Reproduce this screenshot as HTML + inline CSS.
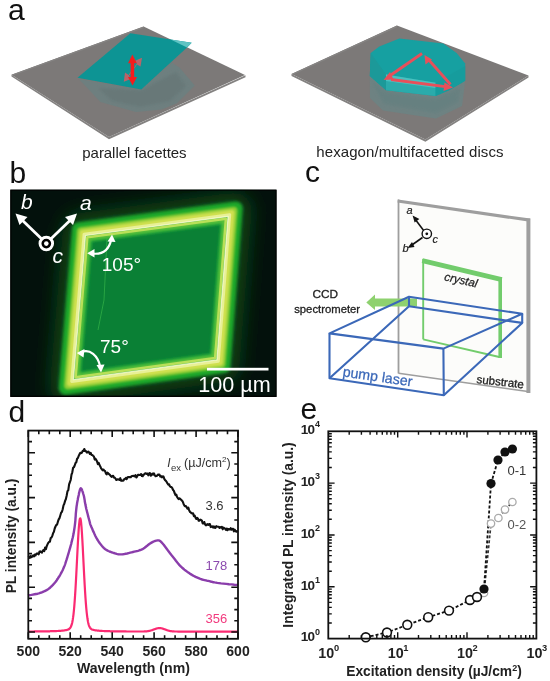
<!DOCTYPE html>
<html><head><meta charset="utf-8">
<style>
html,body{margin:0;padding:0;background:#fff;}
body{width:550px;height:681px;overflow:hidden;position:relative;}
svg{position:absolute;left:0;top:0;display:block;}
.lbl{font-family:"Liberation Sans",Arial,sans-serif;}
</style></head>
<body>
<svg width="550" height="681" viewBox="0 0 550 681" class="lbl">
<defs>
  <filter id="blur10" x="-50%" y="-50%" width="200%" height="200%"><feGaussianBlur stdDeviation="9"/></filter>
  <filter id="blur4" x="-50%" y="-50%" width="200%" height="200%"><feGaussianBlur stdDeviation="3.5"/></filter>
  <filter id="blur2" x="-50%" y="-50%" width="200%" height="200%"><feGaussianBlur stdDeviation="1.6"/></filter>
  <filter id="blur1" x="-50%" y="-50%" width="200%" height="200%"><feGaussianBlur stdDeviation="0.7"/></filter>
  <filter id="blurA" x="-5%" y="-5%" width="110%" height="110%"><feGaussianBlur stdDeviation="0.45"/></filter>
  <filter id="blurB" x="-50%" y="-50%" width="200%" height="200%"><feGaussianBlur stdDeviation="1.2"/></filter>
  <filter id="blurC" x="-50%" y="-50%" width="200%" height="200%"><feGaussianBlur stdDeviation="0.35"/></filter>
  <clipPath id="bclip"><rect x="10.2" y="189.4" width="266.5" height="207.5"/></clipPath>
</defs>

<!-- ================= Panel a ================= -->
<text x="8" y="20.2" font-size="30" fill="#111">a</text>
<!-- left plate -->
<g filter="url(#blurA)">
<polygon points="11.5,74.7 109,137 245.5,75.3 245.5,77.3 109,139.2 11.5,76.6" fill="#848281"/>
<polygon points="143.6,26.4 245,75 109,137 11.5,74.7" fill="#7b7978"/>
<polygon points="143.6,26.4 11.5,74.7 13,75.5 143.6,28" fill="#868483"/>
<polygon points="78.9,79 100.5,102 136,112 161.6,109.6 176.9,103.3 194.7,85.4 179.4,67.6 171.8,62.5 141,90" fill="#6e7f7f"/>
<polygon points="98,88 112,101 140,107 170,101 186,86 176,72 141,90" fill="#687878" filter="url(#blur2)"/>
<polygon points="130.4,33.2 191.7,42.7 187,47.5 141.3,89.5 77.5,77.8" fill="#0e9494"/>
<polygon points="170.7,39.4 191.7,42.7 187,47.5" fill="#5ec3c3"/>
<g fill="#d85a62" opacity="0.85">
  <polygon points="123.8,81.7 125,72.5 128.5,75 137,63.5 133.5,61.5 142,57.7 140.5,66.5 137,64.5 128.8,76 132,78.5"/>
</g>
<g fill="#f41e1e">
  <rect x="130.6" y="62" width="3.6" height="16"/>
  <polygon points="132.4,54.6 136.8,63.3 128,63.3"/>
  <polygon points="132.5,85.6 137,77 128,77"/>
</g>
</g>
<text x="82.3" y="157.6" font-size="15" letter-spacing="-0.05" fill="#222">parallel facettes</text>

<!-- right plate -->
<g filter="url(#blurA)">
<polygon points="291.5,74 425.4,139.6 528.5,75.5 528.5,77.6 425.4,141.7 291.5,76.1" fill="#848281"/>
<polygon points="397,25.6 528.5,75.5 425.4,139.6 291.5,74" fill="#7b7978"/>
<polygon points="397,25.6 291.5,74 293,74.8 397,27.2" fill="#868483"/>
<polygon points="369.8,75 370,98 383,110.5 436,118.5 462,106 465.2,80.8 449,90.3 435.6,96 386,90.3" fill="#6e8282"/>
<polygon points="372,82 384,104 436,113 458,102 460,88 436,99 386,92" fill="#668080" filter="url(#blur2)"/>
<polygon points="370.7,53.1 379.3,46.5 399.4,38.4 443.2,43.6 456.6,53.1 465.2,63.6 465.2,80.8 449,90.3 435.6,96 386,90.3 369.8,76" fill="#17a0a1"/>
<polygon points="370.7,53.1 386,74.5 386,90.3 369.8,76" fill="#1b9999"/>
<polygon points="386,74.5 435.6,82.7 435.6,96 386,90.3" fill="#2aabab"/>
<polygon points="386,74.5 435.6,82.7 435.6,88 386,81" fill="#48c0c0"/>
<polygon points="435.6,82.7 465.2,66 465.2,80.8 449,90.3 435.6,96" fill="#169c9d"/>
<g stroke="#e8505a" stroke-width="2.8" fill="none" stroke-linejoin="round">
  <polyline points="422,53.5 388,77"/>
  <polyline points="391,79.5 447,86.8"/>
  <polyline points="450.5,84.5 428,59"/>
</g>
<g fill="#e8505a">
  <polygon points="383.5,80 390,72 393.5,79.5"/>
  <polygon points="453,87.5 444.5,82.5 443.5,91"/>
  <polygon points="424.5,55 432,59.5 425.5,64.5"/>
</g>
</g>
<text x="316.3" y="157.2" font-size="15" letter-spacing="0.08" fill="#222">hexagon/multifacetted discs</text>

<!-- ================= Panel b ================= -->
<text x="9.5" y="183.3" font-size="30" fill="#111">b</text>
<g clip-path="url(#bclip)">
  <rect x="10.2" y="189.4" width="266.5" height="207.5" fill="#03110c"/>
  <polygon points="80.8,231.1 233.6,210.7 221.6,364.3 67.9,385.5" fill="none" stroke="#0b4416" stroke-width="36" filter="url(#blur10)" stroke-linejoin="round"/>
  <polygon points="86.4,236.4 227.0,217.6 216.0,359.0 74.5,378.5" fill="#0a8035"/>
  <polygon points="86.4,236.4 227.0,217.6 216.0,359.0 74.5,378.5" fill="none" stroke="#19a437" stroke-width="12" filter="url(#blur2)" stroke-linejoin="round"/>
  <polygon points="79.0,229.3 235.7,208.4 223.5,366.0 65.7,387.8" fill="none" stroke="#1aa82c" stroke-width="14" filter="url(#blur2)" stroke-linejoin="round"/>
  <polygon points="88.3,238.2 224.8,219.9 214.1,357.2 76.7,376.2" fill="none" stroke="#5cc03a" stroke-width="5" filter="url(#blur2)" stroke-linejoin="round"/>
  <polygon points="80.8,231.1 233.6,210.7 221.6,364.3 67.9,385.5" fill="none" stroke="#8ccc34" stroke-width="8" filter="url(#blurB)" stroke-linejoin="round"/>
  <polygon points="82.2,232.4 231.9,212.4 220.2,363.0 69.5,383.7" fill="none" stroke="#d0e050" stroke-width="5.5" filter="url(#blurB)" stroke-linejoin="round"/>
  <polygon points="87.3,237.3 225.9,218.8 215.1,358.1 75.6,377.3" fill="none" stroke="#b8e058" stroke-width="2.5" filter="url(#blur1)" stroke-linejoin="round"/>
  <polygon points="84.1,234.2 229.7,214.7 218.3,361.2 71.7,381.4" fill="none" stroke="#e8f096" stroke-width="3" filter="url(#blur1)" stroke-linejoin="round"/>
  <polygon points="85.5,235.5 228.1,216.4 216.9,359.9 73.4,379.7" fill="none" stroke="#fafde0" stroke-width="1.2" stroke-linejoin="round" filter="url(#blurC)" opacity="0.75"/>
  <path d="M107,238 L104,300 L98,330" fill="none" stroke="#3cbc4c" stroke-width="1" opacity="0.6"/>
  <!-- axes -->
  <g stroke="#fff" stroke-width="2.8" fill="#fff">
    <line x1="41.5" y1="238.8" x2="21" y2="219"/>
    <line x1="51" y1="238.8" x2="71.5" y2="219"/>
    <polygon points="15.5,213.5 27.5,217 19.5,225" stroke="none"/>
    <polygon points="77,213.5 65,217 73,225" stroke="none"/>
    <circle cx="46.3" cy="243.6" r="6.3" fill="#000" stroke-width="2.9"/>
    <circle cx="46.3" cy="243.6" r="2.3" stroke="none"/>
  </g>
  <g fill="#fff" font-style="italic" font-size="21">
    <text x="21" y="208.5">b</text>
    <text x="80" y="210">a</text>
    <text x="52.5" y="262.8">c</text>
  </g>
  <g stroke="#fff" stroke-width="2.2" fill="none">
    <path d="M91,253.4 Q108,256 111.3,239"/>
    <path d="M80.5,352.6 C90,348 98,356 100.3,367"/>
  </g>
  <g fill="#fff">
    <polygon points="87.2,253.3 94.5,249 94.5,257.5"/>
    <polygon points="112,234.5 107.5,241.5 115.5,242"/>
    <polygon points="76.8,353 84.5,349 83.5,357.5"/>
    <polygon points="101,372.5 96.5,365 104.5,364.5"/>
  </g>
  <g fill="#fff" font-size="19">
    <text x="101.8" y="270.5">105°</text>
    <text x="100" y="352.5">75°</text>
  </g>
  <rect x="207" y="367.8" width="61.5" height="2.7" fill="#fff"/>
  <rect x="10.8" y="190" width="265.3" height="206.3" fill="none" stroke="#000" stroke-width="1.3"/>
  <text x="198.3" y="392" font-size="21.6" fill="#fff">100 µm</text>
</g>

<!-- ================= Panel c ================= -->
<text x="305" y="181.8" font-size="30" fill="#111">c</text>
<polygon points="398.5,200 530,219.6 530,393 398.5,373.6" fill="#fcfcfa"/>
<g stroke="#9e9e9e" fill="none">
  <line x1="398.5" y1="199.5" x2="398.5" y2="373.5" stroke-width="1.8"/>
  <line x1="398.5" y1="373.2" x2="528" y2="391.5" stroke-width="1.4"/>
  <line x1="397.7" y1="201" x2="530" y2="220.2" stroke-width="3.2"/>
  <line x1="528.4" y1="218.6" x2="528.4" y2="393" stroke-width="4"/>
</g>
<!-- axes small -->
<g stroke="#111" stroke-width="1.6" fill="#111">
  <line x1="424" y1="231" x2="415" y2="219"/>
  <polygon points="412.6,215.6 419.4,219 414.6,222.4" stroke="none"/>
  <line x1="422.5" y1="237.5" x2="410.5" y2="246"/>
  <polygon points="407.5,248 412,242 414.5,247" stroke="none"/>
  <circle cx="426.8" cy="233.8" r="4.7" fill="#fff" stroke-width="1.4"/>
  <circle cx="426.8" cy="233.8" r="1.4" stroke="none"/>
</g>
<g font-style="italic" font-size="11" fill="#222" stroke="#222" stroke-width="0.2">
  <text x="406.5" y="213.5">a</text>
  <text x="402.5" y="251.5">b</text>
  <text x="432.5" y="243">c</text>
</g>
<!-- crystal green -->
<g stroke="#72cc6c" fill="none">
  <line x1="423.2" y1="259" x2="423.2" y2="339.4" stroke-width="1.9"/>
  <line x1="423.2" y1="339.4" x2="499.3" y2="357" stroke-width="1.9"/>
  <line x1="422.3" y1="260.6" x2="501.8" y2="279.6" stroke-width="4.8"/>
  <line x1="500.2" y1="277" x2="500.2" y2="358" stroke-width="3.6"/>
</g>
<text x="443.8" y="280.2" font-size="11.6" font-style="italic" fill="#222" stroke="#222" stroke-width="0.25" transform="rotate(12.5 443.8 280.2)">crystal</text>
<!-- CCD arrow -->
<polygon points="366.3,302.6 375,294.6 375,298.4 417,298.4 417,306.6 375,306.6 375,310" fill="#8ed16f"/>
<text x="325.3" y="298.3" font-size="11.8" fill="#222" stroke="#222" stroke-width="0.3" text-anchor="middle">CCD</text>
<text x="294.2" y="312.5" font-size="11.3" fill="#222" stroke="#222" stroke-width="0.3">spectrometer</text>
<!-- pump laser box -->
<g stroke="#3b68b8" stroke-width="2.1" fill="none" stroke-linejoin="round">
  <polygon points="329.5,333.4 443.4,348.6 522.2,313.8 409,296.8"/>
  <polyline points="329.5,333.4 329.5,378.2 443.8,395.2 443.4,348.6"/>
  <polyline points="329.5,378.2 409,306.3 522.2,322.9 443.8,395.2"/>
  <line x1="409" y1="296.8" x2="409" y2="306.3"/>
  <line x1="522.2" y1="313.8" x2="522.2" y2="322.9"/>
</g>
<text x="342.2" y="376.3" font-size="14.2" fill="#3b68b8" stroke="#3b68b8" stroke-width="0.25" transform="rotate(8.3 342.2 376.3)">pump laser</text>
<text x="476.3" y="383" font-size="11.5" fill="#222" stroke="#222" stroke-width="0.3" transform="rotate(6.5 476.3 383)">substrate</text>

<!-- ================= Panel d ================= -->
<text x="8.5" y="422.2" font-size="30" fill="#111">d</text>
<path d="M28.3,557.2 L29.1,556.5 L29.9,557.9 L30.7,556.0 L31.5,557.2 L32.3,556.5 L33.1,555.4 L33.9,556.5 L34.7,554.7 L35.5,555.5 L36.3,553.9 L37.1,553.4 L37.9,553.8 L38.7,554.3 L39.5,551.6 L40.3,551.4 L41.1,552.1 L41.9,552.6 L42.7,551.0 L43.5,550.0 L44.3,551.1 L45.1,547.6 L45.9,549.1 L46.7,546.2 L47.5,544.4 L48.3,542.8 L49.1,541.8 L49.9,541.7 L50.7,538.1 L51.5,537.5 L52.3,535.9 L53.1,533.2 L53.9,531.8 L54.7,528.5 L55.5,526.5 L56.3,525.0 L57.1,524.5 L57.9,521.7 L58.7,519.4 L59.5,518.1 L60.3,515.5 L61.1,512.8 L61.9,511.9 L62.7,509.3 L63.5,505.4 L64.3,503.8 L65.1,500.9 L65.9,499.0 L66.7,495.5 L67.5,491.1 L68.3,490.2 L69.1,484.4 L69.9,482.1 L70.7,480.0 L71.5,474.7 L72.3,472.3 L73.1,467.8 L73.9,467.2 L74.7,465.5 L75.5,463.0 L76.3,462.2 L77.1,458.8 L77.9,458.0 L78.7,455.9 L79.5,454.3 L80.3,452.8 L81.1,453.1 L81.9,452.7 L82.7,450.8 L83.5,451.0 L84.3,449.0 L85.1,451.0 L85.9,451.1 L86.7,452.5 L87.5,452.5 L88.3,451.5 L89.1,452.4 L89.9,454.0 L90.7,452.8 L91.5,455.0 L92.3,455.0 L93.1,455.8 L93.9,456.5 L94.7,459.6 L95.5,458.7 L96.3,460.1 L97.1,461.6 L97.9,464.1 L98.7,462.8 L99.5,465.0 L100.3,466.4 L101.1,468.4 L101.9,469.3 L102.7,470.3 L103.5,469.5 L104.3,470.6 L105.1,471.2 L105.9,473.5 L106.7,474.4 L107.5,472.7 L108.3,473.4 L109.1,474.2 L109.9,474.8 L110.7,476.0 L111.5,476.8 L112.3,476.2 L113.1,475.8 L113.9,477.5 L114.7,477.6 L115.5,478.6 L116.3,480.0 L117.1,479.5 L117.9,479.2 L118.7,479.6 L119.5,479.9 L120.3,478.2 L121.1,480.8 L121.9,480.4 L122.7,480.7 L123.5,480.4 L124.3,479.0 L125.1,478.9 L125.9,477.8 L126.7,479.2 L127.5,477.3 L128.3,477.1 L129.1,477.3 L129.9,477.0 L130.7,477.3 L131.5,476.2 L132.3,475.9 L133.1,476.1 L133.9,475.8 L134.7,476.4 L135.5,475.2 L136.3,477.5 L137.1,476.5 L137.9,474.9 L138.7,474.9 L139.5,475.0 L140.3,474.9 L141.1,474.0 L141.9,476.0 L142.7,476.2 L143.5,474.5 L144.3,474.5 L145.1,473.2 L145.9,473.2 L146.7,473.9 L147.5,473.6 L148.3,475.3 L149.1,473.4 L149.9,473.0 L150.7,475.8 L151.5,474.6 L152.3,473.5 L153.1,474.7 L153.9,473.3 L154.7,474.9 L155.5,476.3 L156.3,476.0 L157.1,475.7 L157.9,474.5 L158.7,475.0 L159.5,474.6 L160.3,476.6 L161.1,476.2 L161.9,477.3 L162.7,476.3 L163.5,476.5 L164.3,478.9 L165.1,480.2 L165.9,480.8 L166.7,482.0 L167.5,483.5 L168.3,484.6 L169.1,484.3 L169.9,486.3 L170.7,487.0 L171.5,487.1 L172.3,488.2 L173.1,490.0 L173.9,490.9 L174.7,493.3 L175.5,495.1 L176.3,494.6 L177.1,497.0 L177.9,498.2 L178.7,499.1 L179.5,498.3 L180.3,498.8 L181.1,499.8 L181.9,500.6 L182.7,501.5 L183.5,503.7 L184.3,505.4 L185.1,506.2 L185.9,506.0 L186.7,507.4 L187.5,508.7 L188.3,507.5 L189.1,510.1 L189.9,511.8 L190.7,512.4 L191.5,513.3 L192.3,513.4 L193.1,513.4 L193.9,516.1 L194.7,515.6 L195.5,517.7 L196.3,519.0 L197.1,517.9 L197.9,518.6 L198.7,520.8 L199.5,520.7 L200.3,519.6 L201.1,520.0 L201.9,520.6 L202.7,523.4 L203.5,523.5 L204.3,522.0 L205.1,524.5 L205.9,525.3 L206.7,524.7 L207.5,524.1 L208.3,525.0 L209.1,524.1 L209.9,524.0 L210.7,527.1 L211.5,526.4 L212.3,526.2 L213.1,527.6 L213.9,526.3 L214.7,527.8 L215.5,527.9 L216.3,526.2 L217.1,526.5 L217.9,526.7 L218.7,526.7 L219.5,527.9 L220.3,527.0 L221.1,527.6 L221.9,526.8 L222.7,529.3 L223.5,527.7 L224.3,528.2 L225.1,528.7 L225.9,529.8 L226.7,528.5 L227.5,530.2 L228.3,529.1 L229.1,529.4 L229.9,529.5 L230.7,528.2 L231.5,529.7 L232.3,529.1 L233.1,528.8 L233.9,531.4 L234.7,529.7 L235.5,530.8 L236.3,531.7 L237.1,531.4 L237.9,531.0" fill="none" stroke="#111" stroke-width="2.1" stroke-linejoin="round"/>
<path d="M28.0,595.5 L28.9,595.3 L30.0,595.1 L31.4,594.9 L32.9,594.6 L34.5,594.3 L36.1,594.0 L37.6,593.7 L38.9,593.3 L40.1,592.9 L41.3,592.5 L42.4,592.1 L43.5,591.6 L44.6,591.2 L45.6,590.6 L46.6,590.1 L47.6,589.5 L48.5,588.9 L49.4,588.2 L50.3,587.5 L51.1,586.7 L51.9,586.0 L52.7,585.2 L53.4,584.3 L54.2,583.5 L54.9,582.6 L55.7,581.7 L56.4,580.8 L57.0,579.8 L57.7,578.8 L58.3,577.8 L59.0,576.8 L59.6,575.8 L60.2,574.8 L60.8,573.7 L61.4,572.7 L61.9,571.6 L62.5,570.5 L63.0,569.4 L63.5,568.2 L64.0,567.1 L64.5,565.9 L64.9,564.8 L65.3,563.6 L65.7,562.3 L66.1,561.1 L66.5,559.9 L66.9,558.6 L67.3,557.3 L67.7,556.0 L68.1,554.7 L68.5,553.3 L68.9,552.0 L69.3,550.6 L69.7,549.2 L70.1,547.8 L70.5,546.4 L70.9,545.0 L71.3,543.6 L71.6,542.1 L72.0,540.7 L72.3,539.3 L72.7,537.8 L73.0,536.4 L73.3,535.0 L73.6,533.6 L73.8,532.3 L74.0,531.1 L74.2,529.8 L74.4,528.5 L74.6,527.1 L74.8,525.6 L75.0,524.0 L75.2,522.2 L75.4,520.3 L75.5,518.2 L75.7,516.1 L75.8,513.9 L76.0,511.8 L76.2,509.8 L76.4,508.0 L76.6,506.3 L76.9,504.6 L77.1,503.0 L77.4,501.5 L77.7,500.0 L77.9,498.6 L78.2,497.3 L78.5,496.0 L78.8,494.7 L79.0,493.4 L79.3,492.2 L79.6,491.0 L79.9,489.9 L80.2,489.1 L80.5,488.5 L80.8,488.3 L81.1,488.4 L81.5,488.9 L81.9,489.7 L82.2,490.6 L82.6,491.7 L83.0,492.9 L83.3,494.0 L83.6,495.0 L83.9,496.0 L84.1,497.0 L84.3,498.1 L84.5,499.3 L84.7,500.4 L84.8,501.5 L85.0,502.5 L85.2,503.5 L85.4,504.4 L85.5,505.1 L85.7,505.9 L85.8,506.6 L86.0,507.3 L86.1,508.1 L86.3,509.0 L86.6,510.0 L86.9,511.2 L87.3,512.7 L87.7,514.3 L88.1,515.9 L88.5,517.5 L88.9,519.0 L89.3,520.4 L89.6,521.5 L89.8,522.3 L89.9,522.9 L90.0,523.3 L90.1,523.6 L90.2,524.0 L90.3,524.4 L90.6,525.1 L91.0,526.0 L91.5,527.3 L92.2,528.8 L92.9,530.6 L93.8,532.4 L94.6,534.3 L95.5,536.2 L96.4,537.9 L97.3,539.5 L98.2,540.9 L99.1,542.3 L100.0,543.6 L101.0,544.8 L102.0,546.0 L103.0,547.1 L104.0,548.1 L105.0,549.0 L106.1,549.8 L107.2,550.4 L108.3,551.0 L109.5,551.5 L110.6,551.9 L111.7,552.3 L112.8,552.7 L113.9,553.0 L114.9,553.3 L115.8,553.6 L116.7,553.9 L117.5,554.1 L118.4,554.3 L119.4,554.4 L120.4,554.4 L121.5,554.4 L122.8,554.3 L124.1,554.1 L125.6,553.8 L127.1,553.5 L128.7,553.1 L130.2,552.7 L131.6,552.3 L133.0,552.0 L134.3,551.7 L135.6,551.4 L136.8,551.1 L138.0,550.8 L139.2,550.4 L140.3,550.0 L141.4,549.6 L142.5,549.1 L143.6,548.5 L144.6,547.8 L145.6,547.0 L146.5,546.3 L147.5,545.5 L148.4,544.7 L149.3,544.0 L150.2,543.4 L151.1,542.9 L152.0,542.4 L152.9,541.9 L153.7,541.5 L154.6,541.1 L155.4,540.8 L156.2,540.6 L156.9,540.5 L157.5,540.4 L158.1,540.4 L158.6,540.4 L159.1,540.5 L159.6,540.7 L160.1,541.1 L160.8,541.6 L161.6,542.4 L162.6,543.5 L163.7,544.8 L164.8,546.3 L166.1,548.0 L167.4,549.8 L168.7,551.5 L170.0,553.2 L171.2,554.8 L172.4,556.3 L173.6,557.8 L174.8,559.3 L175.9,560.8 L177.1,562.3 L178.3,563.7 L179.5,565.1 L180.7,566.3 L181.9,567.5 L183.1,568.5 L184.3,569.6 L185.5,570.5 L186.7,571.4 L187.9,572.3 L189.1,573.1 L190.3,573.9 L191.5,574.6 L192.7,575.4 L193.9,576.0 L195.1,576.6 L196.2,577.2 L197.4,577.7 L198.6,578.2 L199.8,578.7 L201.0,579.1 L202.2,579.5 L203.4,579.8 L204.6,580.1 L205.8,580.4 L207.0,580.7 L208.2,580.9 L209.4,581.2 L210.5,581.5 L211.6,581.7 L212.5,582.0 L213.6,582.2 L214.6,582.4 L215.9,582.6 L217.3,582.9 L218.9,583.1 L221.0,583.4 L223.4,583.6 L226.2,583.9 L229.0,584.2 L231.8,584.4 L234.3,584.7 L236.5,584.9 L238.0,585.0" fill="none" stroke="#8a3dab" stroke-width="2.4" stroke-linejoin="round"/>
<path d="M28.3,631.5 L28.7,631.5 L29.1,631.5 L29.5,631.5 L29.9,631.5 L30.3,631.5 L30.7,631.5 L31.1,631.5 L31.5,631.5 L31.9,631.5 L32.3,631.5 L32.7,631.5 L33.1,631.5 L33.5,631.5 L33.9,631.5 L34.3,631.4 L34.7,631.4 L35.1,631.4 L35.5,631.4 L35.9,631.4 L36.3,631.4 L36.7,631.4 L37.1,631.4 L37.5,631.4 L37.9,631.4 L38.3,631.4 L38.7,631.4 L39.1,631.4 L39.5,631.4 L39.9,631.4 L40.3,631.4 L40.7,631.4 L41.1,631.4 L41.5,631.4 L41.9,631.4 L42.3,631.4 L42.7,631.4 L43.1,631.4 L43.5,631.4 L43.9,631.4 L44.3,631.4 L44.7,631.3 L45.1,631.3 L45.5,631.3 L45.9,631.3 L46.3,631.3 L46.7,631.3 L47.1,631.3 L47.5,631.3 L47.9,631.3 L48.3,631.3 L48.7,631.3 L49.1,631.3 L49.5,631.3 L49.9,631.3 L50.3,631.2 L50.7,631.2 L51.1,631.2 L51.5,631.2 L51.9,631.2 L52.3,631.2 L52.7,631.2 L53.1,631.2 L53.5,631.2 L53.9,631.1 L54.3,631.1 L54.7,631.1 L55.1,631.1 L55.5,631.1 L55.9,631.1 L56.3,631.1 L56.7,631.0 L57.1,631.0 L57.5,631.0 L57.9,631.0 L58.3,631.0 L58.7,630.9 L59.1,630.9 L59.5,630.9 L59.9,630.9 L60.3,630.8 L60.7,630.8 L61.1,630.8 L61.5,630.7 L61.9,630.7 L62.3,630.7 L62.7,630.6 L63.1,630.6 L63.5,630.5 L63.9,630.5 L64.3,630.4 L64.7,630.4 L65.1,630.3 L65.5,630.2 L65.9,630.2 L66.3,630.1 L66.7,630.0 L67.1,629.9 L67.5,629.8 L67.9,629.6 L68.3,629.5 L68.7,629.3 L69.1,629.0 L69.5,628.7 L69.9,628.3 L70.3,627.8 L70.7,627.1 L71.1,626.3 L71.5,625.2 L71.9,623.9 L72.3,622.2 L72.7,620.0 L73.1,617.4 L73.5,614.3 L73.9,610.5 L74.3,606.1 L74.7,600.9 L75.1,595.1 L75.5,588.7 L75.9,581.6 L76.3,574.1 L76.7,566.2 L77.1,558.2 L77.5,550.2 L77.9,542.6 L78.3,535.6 L78.7,529.4 L79.1,524.5 L79.5,520.8 L79.9,518.8 L80.3,518.4 L80.7,519.6 L81.1,522.5 L81.5,526.8 L81.9,532.4 L82.3,539.0 L82.7,546.3 L83.1,554.2 L83.5,562.2 L83.9,570.2 L84.3,577.9 L84.7,585.2 L85.1,592.0 L85.5,598.1 L85.9,603.6 L86.3,608.4 L86.7,612.5 L87.1,615.9 L87.5,618.8 L87.9,621.2 L88.3,623.1 L88.7,624.6 L89.1,625.8 L89.5,626.8 L89.9,627.5 L90.3,628.1 L90.7,628.5 L91.1,628.9 L91.5,629.2 L91.9,629.4 L92.3,629.6 L92.7,629.7 L93.1,629.8 L93.5,629.9 L93.9,630.0 L94.3,630.1 L94.7,630.2 L95.1,630.3 L95.5,630.3 L95.9,630.4 L96.3,630.4 L96.7,630.5 L97.1,630.5 L97.5,630.6 L97.9,630.6 L98.3,630.7 L98.7,630.7 L99.1,630.7 L99.5,630.8 L99.9,630.8 L100.3,630.8 L100.7,630.9 L101.1,630.9 L101.5,630.9 L101.9,630.9 L102.3,631.0 L102.7,631.0 L103.1,631.0 L103.5,631.0 L103.9,631.0 L104.3,631.1 L104.7,631.1 L105.1,631.1 L105.5,631.1 L105.9,631.1 L106.3,631.1 L106.7,631.2 L107.1,631.2 L107.5,631.2 L107.9,631.2 L108.3,631.2 L108.7,631.2 L109.1,631.2 L109.5,631.2 L109.9,631.2 L110.3,631.3 L110.7,631.3 L111.1,631.3 L111.5,631.3 L111.9,631.3 L112.3,631.3 L112.7,631.3 L113.1,631.3 L113.5,631.3 L113.9,631.3 L114.3,631.3 L114.7,631.3 L115.1,631.3 L115.5,631.3 L115.9,631.4 L116.3,631.4 L116.7,631.4 L117.1,631.4 L117.5,631.4 L117.9,631.4 L118.3,631.4 L118.7,631.4 L119.1,631.4 L119.5,631.4 L119.9,631.4 L120.3,631.4 L120.7,631.4 L121.1,631.4 L121.5,631.4 L121.9,631.4 L122.3,631.4 L122.7,631.4 L123.1,631.4 L123.5,631.4 L123.9,631.4 L124.3,631.4 L124.7,631.4 L125.1,631.4 L125.5,631.4 L125.9,631.4 L126.3,631.5 L126.7,631.5 L127.1,631.5 L127.5,631.5 L127.9,631.5 L128.3,631.5 L128.7,631.5 L129.1,631.5 L129.5,631.5 L129.9,631.5 L130.3,631.5 L130.7,631.5 L131.1,631.5 L131.5,631.5 L131.9,631.5 L132.3,631.5 L132.7,631.5 L133.1,631.5 L133.5,631.5 L133.9,631.5 L134.3,631.5 L134.7,631.5 L135.1,631.5 L135.5,631.5 L135.9,631.5 L136.3,631.5 L136.7,631.5 L137.1,631.5 L137.5,631.5 L137.9,631.5 L138.3,631.5 L138.7,631.5 L139.1,631.5 L139.5,631.5 L139.9,631.5 L140.3,631.5 L140.7,631.5 L141.1,631.5 L141.5,631.5 L141.9,631.5 L142.3,631.5 L142.7,631.5 L143.1,631.5 L143.5,631.5 L143.9,631.5 L144.3,631.4 L144.7,631.4 L145.1,631.4 L145.5,631.4 L145.9,631.4 L146.3,631.3 L146.7,631.3 L147.1,631.3 L147.5,631.2 L147.9,631.2 L148.3,631.1 L148.7,631.0 L149.1,630.9 L149.5,630.9 L149.9,630.8 L150.3,630.7 L150.7,630.6 L151.1,630.4 L151.5,630.3 L151.9,630.2 L152.3,630.1 L152.7,629.9 L153.1,629.8 L153.5,629.6 L153.9,629.5 L154.3,629.3 L154.7,629.2 L155.1,629.0 L155.5,628.9 L155.9,628.7 L156.3,628.6 L156.7,628.5 L157.1,628.4 L157.5,628.3 L157.9,628.2 L158.3,628.1 L158.7,628.1 L159.1,628.1 L159.5,628.0 L159.9,628.1 L160.3,628.1 L160.7,628.1 L161.1,628.2 L161.5,628.3 L161.9,628.4 L162.3,628.5 L162.7,628.6 L163.1,628.7 L163.5,628.9 L163.9,629.0 L164.3,629.2 L164.7,629.3 L165.1,629.5 L165.5,629.6 L165.9,629.8 L166.3,629.9 L166.7,630.1 L167.1,630.2 L167.5,630.3 L167.9,630.5 L168.3,630.6 L168.7,630.7 L169.1,630.8 L169.5,630.9 L169.9,631.0 L170.3,631.1 L170.7,631.1 L171.1,631.2 L171.5,631.2 L171.9,631.3 L172.3,631.3 L172.7,631.4 L173.1,631.4 L173.5,631.4 L173.9,631.4 L174.3,631.5 L174.7,631.5 L175.1,631.5 L175.5,631.5 L175.9,631.5 L176.3,631.5 L176.7,631.5 L177.1,631.5 L177.5,631.5 L177.9,631.6 L178.3,631.6 L178.7,631.6 L179.1,631.6 L179.5,631.6 L179.9,631.6 L180.3,631.6 L180.7,631.6 L181.1,631.6 L181.5,631.6 L181.9,631.6 L182.3,631.6 L182.7,631.6 L183.1,631.6 L183.5,631.6 L183.9,631.6 L184.3,631.6 L184.7,631.6 L185.1,631.6 L185.5,631.6 L185.9,631.6 L186.3,631.6 L186.7,631.6 L187.1,631.6 L187.5,631.6 L187.9,631.6 L188.3,631.6 L188.7,631.6 L189.1,631.6 L189.5,631.6 L189.9,631.6 L190.3,631.6 L190.7,631.6 L191.1,631.6 L191.5,631.6 L191.9,631.6 L192.3,631.6 L192.7,631.6 L193.1,631.6 L193.5,631.6 L193.9,631.6 L194.3,631.6 L194.7,631.6 L195.1,631.6 L195.5,631.6 L195.9,631.6 L196.3,631.6 L196.7,631.6 L197.1,631.6 L197.5,631.6 L197.9,631.6 L198.3,631.6 L198.7,631.6 L199.1,631.6 L199.5,631.6 L199.9,631.6 L200.3,631.6 L200.7,631.6 L201.1,631.6 L201.5,631.6 L201.9,631.6 L202.3,631.6 L202.7,631.6 L203.1,631.6 L203.5,631.6 L203.9,631.6 L204.3,631.6 L204.7,631.6 L205.1,631.6 L205.5,631.6 L205.9,631.6 L206.3,631.6 L206.7,631.6 L207.1,631.6 L207.5,631.6 L207.9,631.6 L208.3,631.6 L208.7,631.6 L209.1,631.6 L209.5,631.6 L209.9,631.6 L210.3,631.6 L210.7,631.6 L211.1,631.6 L211.5,631.6 L211.9,631.6 L212.3,631.6 L212.7,631.6 L213.1,631.6 L213.5,631.6 L213.9,631.6 L214.3,631.6 L214.7,631.6 L215.1,631.6 L215.5,631.6 L215.9,631.6 L216.3,631.6 L216.7,631.6 L217.1,631.6 L217.5,631.6 L217.9,631.6 L218.3,631.6 L218.7,631.6 L219.1,631.6 L219.5,631.6 L219.9,631.6 L220.3,631.6 L220.7,631.6 L221.1,631.6 L221.5,631.6 L221.9,631.6 L222.3,631.6 L222.7,631.6 L223.1,631.6 L223.5,631.6 L223.9,631.6 L224.3,631.6 L224.7,631.6 L225.1,631.6 L225.5,631.6 L225.9,631.6 L226.3,631.6 L226.7,631.6 L227.1,631.6 L227.5,631.6 L227.9,631.6 L228.3,631.6 L228.7,631.6 L229.1,631.6 L229.5,631.6 L229.9,631.6 L230.3,631.6 L230.7,631.6 L231.1,631.6 L231.5,631.6 L231.9,631.6 L232.3,631.6 L232.7,631.6 L233.1,631.6 L233.5,631.6 L233.9,631.6 L234.3,631.6 L234.7,631.6 L235.1,631.6 L235.5,631.6 L235.9,631.6 L236.3,631.6 L236.7,631.6 L237.1,631.6 L237.5,631.6 L237.9,631.6" fill="none" stroke="#fb2a72" stroke-width="2.2" stroke-linejoin="round"/>
<rect x="28.3" y="430.6" width="209.7" height="208.2" fill="none" stroke="#111" stroke-width="1.8"/>
<path d="M28.3,638.8v-6.5 M28.3,430.6v6.5 M38.8,638.8v-3.6 M38.8,430.6v3.6 M49.3,638.8v-3.6 M49.3,430.6v3.6 M59.8,638.8v-3.6 M59.8,430.6v3.6 M70.2,638.8v-6.5 M70.2,430.6v6.5 M80.7,638.8v-3.6 M80.7,430.6v3.6 M91.2,638.8v-3.6 M91.2,430.6v3.6 M101.7,638.8v-3.6 M101.7,430.6v3.6 M112.2,638.8v-6.5 M112.2,430.6v6.5 M122.7,638.8v-3.6 M122.7,430.6v3.6 M133.2,638.8v-3.6 M133.2,430.6v3.6 M143.6,638.8v-3.6 M143.6,430.6v3.6 M154.1,638.8v-6.5 M154.1,430.6v6.5 M164.6,638.8v-3.6 M164.6,430.6v3.6 M175.1,638.8v-3.6 M175.1,430.6v3.6 M185.6,638.8v-3.6 M185.6,430.6v3.6 M196.1,638.8v-6.5 M196.1,430.6v6.5 M206.5,638.8v-3.6 M206.5,430.6v3.6 M217.0,638.8v-3.6 M217.0,430.6v3.6 M227.5,638.8v-3.6 M227.5,430.6v3.6 M238.0,638.8v-6.5 M238.0,430.6v6.5 M28.3,452.8h6.7 M238.0,452.8h-6.7 M28.3,464.0h3.7 M238.0,464.0h-3.7 M28.3,475.2h3.7 M238.0,475.2h-3.7 M28.3,486.4h3.7 M238.0,486.4h-3.7 M28.3,497.6h6.7 M238.0,497.6h-6.7 M28.3,508.8h3.7 M238.0,508.8h-3.7 M28.3,520.0h3.7 M238.0,520.0h-3.7 M28.3,531.2h3.7 M238.0,531.2h-3.7 M28.3,542.4h6.7 M238.0,542.4h-6.7 M28.3,553.6h3.7 M238.0,553.6h-3.7 M28.3,564.8h3.7 M238.0,564.8h-3.7 M28.3,576.0h3.7 M238.0,576.0h-3.7 M28.3,587.2h6.7 M238.0,587.2h-6.7 M28.3,598.4h3.7 M238.0,598.4h-3.7 M28.3,609.6h3.7 M238.0,609.6h-3.7 M28.3,620.8h3.7 M238.0,620.8h-3.7 M28.3,632.0h6.7 M238.0,632.0h-6.7 M28.3,441.6h3.7 M238.0,441.6h-3.7" stroke="#111" stroke-width="1.6"/>
<g font-size="14" font-weight="bold" fill="#222" text-anchor="middle"><text x="28.3" y="655.5">500</text><text x="70.2" y="655.5">520</text><text x="112.2" y="655.5">540</text><text x="154.1" y="655.5">560</text><text x="196.1" y="655.5">580</text><text x="238.0" y="655.5">600</text></g>
<text x="133.4" y="673" font-size="14.1" font-weight="bold" fill="#222" text-anchor="middle">Wavelength (nm)</text>
<text transform="translate(16.3 536) rotate(-90)" font-size="13.8" font-weight="bold" fill="#222" text-anchor="middle">PL intensity (a.u.)</text>
<text x="167.3" y="466.5" font-size="12" font-style="italic" fill="#333">I</text>
<text x="171" y="471.3" font-size="9.5" fill="#333">ex</text>
<text x="184" y="466.5" font-size="12.6" fill="#333">(µJ/cm<tspan font-size="8" dy="-4.5">2</tspan><tspan dy="4.5">)</tspan></text>
<text x="205.5" y="509.6" font-size="13" fill="#333">3.6</text>
<text x="205.5" y="570.1" font-size="13" fill="#8c4aae">178</text>
<text x="205.5" y="622.6" font-size="13" fill="#f23a7e">356</text>

<!-- ================= Panel e ================= -->
<text x="300.5" y="419.2" font-size="30" fill="#111">e</text>
<path d="M484.0,593.0 L491.0,523.6 L498.4,518.0 L505.0,509.6 L512.4,502.0" fill="none" stroke="#333" stroke-width="1.7" stroke-dasharray="3 2"/>
<path d="M365.8,637.3 L387.0,632.5 L407.3,624.8 L428.2,617.2 L449.0,610.6 L470.0,600.0 L477.0,597.0 L484.0,589.0 L491.0,483.6 L498.0,460.0 L505.0,452.0 L512.4,449.0" fill="none" stroke="#111" stroke-width="1.8" stroke-dasharray="3 2"/>
<g fill="#fff" stroke="#aaa" stroke-width="1.3"><circle cx="484.0" cy="593.0" r="3.7"/><circle cx="491.0" cy="523.6" r="3.7"/><circle cx="498.4" cy="518.0" r="3.7"/><circle cx="505.0" cy="509.6" r="3.7"/><circle cx="512.4" cy="502.0" r="3.7"/></g>
<g fill="#fff" stroke="#111" stroke-width="1.6"><circle cx="365.8" cy="637.3" r="4.4"/><circle cx="387.0" cy="632.5" r="4.4"/><circle cx="407.3" cy="624.8" r="4.4"/><circle cx="428.2" cy="617.2" r="4.4"/><circle cx="449.0" cy="610.6" r="4.4"/><circle cx="470.0" cy="600.0" r="4.4"/><circle cx="477.0" cy="597.0" r="4.4"/></g>
<g fill="#111"><circle cx="484.0" cy="589.0" r="4.6"/><circle cx="491.0" cy="483.6" r="4.6"/><circle cx="498.0" cy="460.0" r="4.6"/><circle cx="505.0" cy="452.0" r="4.6"/><circle cx="512.4" cy="449.0" r="4.6"/></g>
<rect x="328.3" y="431.3" width="208.1" height="207.3" fill="none" stroke="#111" stroke-width="1.8"/>
<path d="M349.2,638.6v-3.5 M349.2,431.3v3.5 M361.4,638.6v-3.5 M361.4,431.3v3.5 M370.1,638.6v-3.5 M370.1,431.3v3.5 M376.8,638.6v-3.5 M376.8,431.3v3.5 M382.3,638.6v-3.5 M382.3,431.3v3.5 M386.9,638.6v-3.5 M386.9,431.3v3.5 M390.9,638.6v-3.5 M390.9,431.3v3.5 M394.5,638.6v-3.5 M394.5,431.3v3.5 M397.7,638.6v-6.3 M397.7,431.3v6.3 M418.5,638.6v-3.5 M418.5,431.3v3.5 M430.8,638.6v-3.5 M430.8,431.3v3.5 M439.4,638.6v-3.5 M439.4,431.3v3.5 M446.2,638.6v-3.5 M446.2,431.3v3.5 M451.6,638.6v-3.5 M451.6,431.3v3.5 M456.3,638.6v-3.5 M456.3,431.3v3.5 M460.3,638.6v-3.5 M460.3,431.3v3.5 M463.9,638.6v-3.5 M463.9,431.3v3.5 M467.0,638.6v-6.3 M467.0,431.3v6.3 M487.9,638.6v-3.5 M487.9,431.3v3.5 M500.1,638.6v-3.5 M500.1,431.3v3.5 M508.8,638.6v-3.5 M508.8,431.3v3.5 M515.5,638.6v-3.5 M515.5,431.3v3.5 M521.0,638.6v-3.5 M521.0,431.3v3.5 M525.7,638.6v-3.5 M525.7,431.3v3.5 M529.7,638.6v-3.5 M529.7,431.3v3.5 M533.2,638.6v-3.5 M533.2,431.3v3.5 M328.3,623.0h3.5 M536.4,623.0h-3.5 M328.3,613.9h3.5 M536.4,613.9h-3.5 M328.3,607.4h3.5 M536.4,607.4h-3.5 M328.3,602.4h3.5 M536.4,602.4h-3.5 M328.3,598.3h3.5 M536.4,598.3h-3.5 M328.3,594.8h3.5 M536.4,594.8h-3.5 M328.3,591.8h3.5 M536.4,591.8h-3.5 M328.3,589.1h3.5 M536.4,589.1h-3.5 M328.3,586.8h6.3 M536.4,586.8h-6.3 M328.3,571.2h3.5 M536.4,571.2h-3.5 M328.3,562.0h3.5 M536.4,562.0h-3.5 M328.3,555.6h3.5 M536.4,555.6h-3.5 M328.3,550.6h3.5 M536.4,550.6h-3.5 M328.3,546.4h3.5 M536.4,546.4h-3.5 M328.3,543.0h3.5 M536.4,543.0h-3.5 M328.3,540.0h3.5 M536.4,540.0h-3.5 M328.3,537.3h3.5 M536.4,537.3h-3.5 M328.3,535.0h6.3 M536.4,535.0h-6.3 M328.3,519.3h3.5 M536.4,519.3h-3.5 M328.3,510.2h3.5 M536.4,510.2h-3.5 M328.3,503.7h3.5 M536.4,503.7h-3.5 M328.3,498.7h3.5 M536.4,498.7h-3.5 M328.3,494.6h3.5 M536.4,494.6h-3.5 M328.3,491.2h3.5 M536.4,491.2h-3.5 M328.3,488.1h3.5 M536.4,488.1h-3.5 M328.3,485.5h3.5 M536.4,485.5h-3.5 M328.3,483.1h6.3 M536.4,483.1h-6.3 M328.3,467.5h3.5 M536.4,467.5h-3.5 M328.3,458.4h3.5 M536.4,458.4h-3.5 M328.3,451.9h3.5 M536.4,451.9h-3.5 M328.3,446.9h3.5 M536.4,446.9h-3.5 M328.3,442.8h3.5 M536.4,442.8h-3.5 M328.3,439.3h3.5 M536.4,439.3h-3.5 M328.3,436.3h3.5 M536.4,436.3h-3.5 M328.3,433.7h3.5 M536.4,433.7h-3.5" stroke="#111" stroke-width="1.4"/>
<g font-size="13.5" font-weight="bold" fill="#222"><text x="314.3" y="641.3" text-anchor="end" letter-spacing="-0.7">10</text><text x="315" y="634.6" font-size="9">0</text><text x="314.3" y="589.5" text-anchor="end" letter-spacing="-0.7">10</text><text x="315" y="582.8" font-size="9">1</text><text x="314.3" y="537.7" text-anchor="end" letter-spacing="-0.7">10</text><text x="315" y="531.0" font-size="9">2</text><text x="314.3" y="485.8" text-anchor="end" letter-spacing="-0.7">10</text><text x="315" y="479.1" font-size="9">3</text><text x="314.3" y="434.0" text-anchor="end" letter-spacing="-0.7">10</text><text x="315" y="427.3" font-size="9">4</text></g>
<g font-size="13.5" font-weight="bold" fill="#222"><text x="326.3" y="657.6" text-anchor="middle" font-size="14.3">10</text><text x="333.9" y="650.6" font-size="9.3">0</text><text x="395.7" y="657.6" text-anchor="middle" font-size="14.3">10</text><text x="403.3" y="650.6" font-size="9.3">1</text><text x="465.0" y="657.6" text-anchor="middle" font-size="14.3">10</text><text x="472.6" y="650.6" font-size="9.3">2</text><text x="534.4" y="657.6" text-anchor="middle" font-size="14.3">10</text><text x="542.0" y="650.6" font-size="9.3">3</text></g>
<text x="434" y="676" font-size="13.8" font-weight="bold" fill="#222" text-anchor="middle">Excitation density (µJ/cm<tspan font-size="9" dy="-5">2</tspan><tspan dy="5">)</tspan></text>
<text transform="translate(292.8 535) rotate(-90)" font-size="13.8" font-weight="bold" fill="#222" text-anchor="middle">Integrated PL intensity (a.u.)</text>
<text x="507.5" y="475" font-size="13" fill="#333">0-1</text>
<text x="507.5" y="529" font-size="13" fill="#555">0-2</text>
</svg>
</body></html>
